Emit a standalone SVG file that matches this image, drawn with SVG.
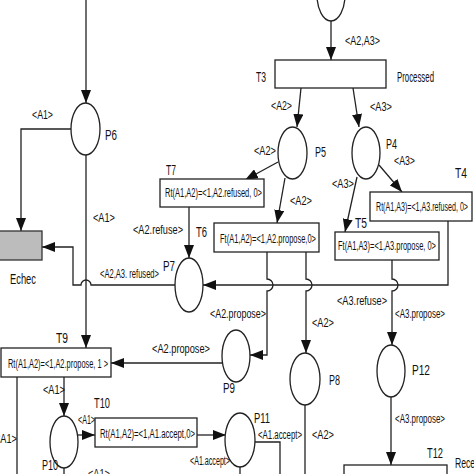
<svg xmlns="http://www.w3.org/2000/svg" width="474" height="474" viewBox="0 0 474 474">
<style>
text { font-family: "Liberation Sans", Arial, sans-serif; fill: #111; }
.n { font-size: 14px; }
.a { font-size: 12px; }
.b { font-size: 12px; }
.place { fill: #fff; stroke: #222; stroke-width: 1.3; }
.tr { fill: #fff; stroke: #222; stroke-width: 1.3; }
.echec { fill: #bcbcbc; stroke: #333; stroke-width: 1.3; }
.c { fill: none; stroke: #222; stroke-width: 1.3; }
.arr { marker-end: url(#ah); }
</style>
<defs>
<marker id="ah" markerUnits="userSpaceOnUse" markerWidth="13" markerHeight="10" refX="13" refY="5" orient="auto">
<path d="M0,0 L13,5 L0,10 z" fill="#111"/>
</marker>
</defs>
<rect width="474" height="474" fill="#fff"/>

<g id="connectors">
<path class="c arr" d="M331,21 L331,60"/>
<path class="c arr" d="M301,88 L297,127"/>
<path class="c arr" d="M353,88 L359,127"/>
<path class="c arr" d="M278,162 L245,180"/>
<path class="c arr" d="M285,178 L277,223"/>
<path class="c arr" d="M379,165 L402,192"/>
<path class="c arr" d="M357,177 L345,232"/>
<path class="c arr" d="M86,0 L86,103"/>
<path class="c arr" d="M71,129 L21,129 L21,231"/>
<path class="c arr" d="M86,155 L86,348"/>
<path class="c arr" d="M189,206 L189,258"/>
<path class="c arr" d="M448,221 L448,285 L203,285"/>
<path class="c arr" d="M175,285 L91,285 A5,5 0 0 0 81,285 L73,285 L73,247 L42,247"/>
<path class="c arr" d="M267,252 L267,279 A6,6 0 0 1 267,291 L267,355 L250,355"/>
<path class="c arr" d="M306,252 L306,279 A6,6 0 0 1 306,291 L306,353"/>
<path class="c arr" d="M392,260 L392,279 A6,6 0 0 1 392,291 L392,345"/>
<path class="c arr" d="M222,363 L111,363"/>
<path class="c" d="M305,405 L305,474"/>
<path class="c arr" d="M391,397 L391,465"/>
<path class="c arr" d="M64,377 L64,416"/>
<path class="c" d="M17,377 L17,474"/>
<path class="c arr" d="M78,435 L95,435"/>
<path class="c arr" d="M197,435 L226,435"/>
<path class="c" d="M255,442 L280,442 L280,474"/>
<path class="c" d="M240,467 L240,474"/>
<path class="c" d="M64,468 L64,474"/>
</g>

<g id="P2"><ellipse class="place" cx="331" cy="-5" rx="14" ry="26"/></g>
<g id="T3"><rect class="tr" x="275" y="60" width="111" height="28"/>
<text class="n" x="256" y="82" font-size="15" textLength="10" lengthAdjust="spacingAndGlyphs">T3</text>
<text class="n" x="397" y="82" font-size="13" textLength="37" lengthAdjust="spacingAndGlyphs">Processed</text>
<text class="a" x="345" y="45" textLength="35" lengthAdjust="spacingAndGlyphs">&lt;A2,A3&gt;</text></g>
<g id="P6"><ellipse class="place" cx="85.5" cy="129" rx="14.5" ry="26"/>
<text class="n" x="105" y="140" textLength="12" lengthAdjust="spacingAndGlyphs">P6</text></g>
<g id="P5"><ellipse class="place" cx="292.5" cy="153" rx="14.5" ry="26"/>
<text class="n" x="315" y="157" textLength="11" lengthAdjust="spacingAndGlyphs">P5</text></g>
<g id="P4"><ellipse class="place" cx="366" cy="153" rx="14" ry="26"/>
<text class="n" x="386" y="149" textLength="11" lengthAdjust="spacingAndGlyphs">P4</text></g>
<g id="T7"><rect class="tr" x="160" y="179" width="104" height="28"/>
<text class="b" x="165" y="197" textLength="97" lengthAdjust="spacingAndGlyphs">Rt(A1,A2)=&lt;1,A2.refused, 0&gt;</text>
<text class="n" x="166" y="175" textLength="10" lengthAdjust="spacingAndGlyphs">T7</text></g>
<g id="T6"><rect class="tr" x="214" y="223" width="105" height="29"/>
<text class="b" x="220" y="243" textLength="96" lengthAdjust="spacingAndGlyphs">Ft(A1,A2)=&lt;1,A2.propose,0&gt;</text>
<text class="n" x="196" y="237" textLength="11" lengthAdjust="spacingAndGlyphs">T6</text></g>
<g id="T4"><rect class="tr" x="370" y="192" width="102" height="29"/>
<text class="b" x="376" y="211" textLength="92" lengthAdjust="spacingAndGlyphs">Rt(A1,A3)=&lt;1,A3.refused, 0&gt;</text>
<text class="n" x="455" y="178" textLength="12" lengthAdjust="spacingAndGlyphs">T4</text></g>
<g id="T5"><rect class="tr" x="335" y="232" width="104" height="28"/>
<text class="b" x="338" y="250" textLength="98" lengthAdjust="spacingAndGlyphs">Ft(A1,A3)=&lt;1,A3.propose, 0&gt;</text>
<text class="n" x="355" y="228" textLength="12" lengthAdjust="spacingAndGlyphs">T5</text></g>
<g id="Echec"><rect class="echec" x="-1" y="231" width="43" height="29"/>
<text class="n" x="10" y="284" font-size="14" textLength="26" lengthAdjust="spacingAndGlyphs">Echec</text></g>
<g id="P7"><ellipse class="place" cx="189" cy="285" rx="14" ry="27"/>
<text class="n" x="163" y="271" textLength="12" lengthAdjust="spacingAndGlyphs">P7</text></g>
<g id="T9"><rect class="tr" x="1" y="348" width="110" height="29"/>
<text class="b" x="8" y="368" textLength="100" lengthAdjust="spacingAndGlyphs">Rt(A1,A2)=&lt;1,A2.propose, 1 &gt;</text>
<text class="n" x="56" y="343" textLength="12" lengthAdjust="spacingAndGlyphs">T9</text></g>
<g id="P9"><ellipse class="place" cx="236" cy="356" rx="14" ry="26"/>
<text class="n" x="223" y="393" textLength="12" lengthAdjust="spacingAndGlyphs">P9</text></g>
<g id="P8"><ellipse class="place" cx="305" cy="379" rx="15" ry="26"/>
<text class="n" x="329" y="385" textLength="11" lengthAdjust="spacingAndGlyphs">P8</text></g>
<g id="P12"><ellipse class="place" cx="391" cy="371" rx="14" ry="26"/>
<text class="n" x="412" y="375" textLength="18" lengthAdjust="spacingAndGlyphs">P12</text></g>
<g id="T12"><rect class="tr" x="344" y="465" width="103" height="20"/>
<text class="n" x="427" y="458" textLength="16" lengthAdjust="spacingAndGlyphs">T12</text>
<text class="n" x="455" y="468" font-size="13" textLength="36" lengthAdjust="spacingAndGlyphs">Received</text></g>
<g id="P10"><ellipse class="place" cx="64" cy="442" rx="14" ry="26"/>
<text class="n" x="42" y="470" textLength="16" lengthAdjust="spacingAndGlyphs">P10</text></g>
<g id="T10"><rect class="tr" x="95" y="418" width="102" height="29"/>
<text class="b" x="100" y="438" textLength="95" lengthAdjust="spacingAndGlyphs">Rt(A1,A2)=&lt;1,A1.accept,0&gt;</text>
<text class="n" x="94" y="408" textLength="16" lengthAdjust="spacingAndGlyphs">T10</text></g>
<g id="P11"><ellipse class="place" cx="240" cy="440" rx="15" ry="27"/>
<text class="n" x="254" y="423" textLength="16" lengthAdjust="spacingAndGlyphs">P11</text></g>

<g id="arc-labels">
<text class="a" x="271" y="110" textLength="21" lengthAdjust="spacingAndGlyphs">&lt;A2&gt;</text>
<text class="a" x="370" y="111" textLength="22" lengthAdjust="spacingAndGlyphs">&lt;A3&gt;</text>
<text class="a" x="254" y="155" textLength="22" lengthAdjust="spacingAndGlyphs">&lt;A2&gt;</text>
<text class="a" x="394" y="165" textLength="21" lengthAdjust="spacingAndGlyphs">&lt;A3&gt;</text>
<text class="a" x="332" y="188" textLength="22" lengthAdjust="spacingAndGlyphs">&lt;A3&gt;</text>
<text class="a" x="290" y="205" textLength="22" lengthAdjust="spacingAndGlyphs">&lt;A2&gt;</text>
<text class="a" x="32" y="119" textLength="21" lengthAdjust="spacingAndGlyphs">&lt;A1&gt;</text>
<text class="a" x="93" y="222" textLength="22" lengthAdjust="spacingAndGlyphs">&lt;A1&gt;</text>
<text class="a" x="133" y="234" textLength="50" lengthAdjust="spacingAndGlyphs">&lt;A2.refuse&gt;</text>
<text class="a" x="100" y="278" textLength="59" lengthAdjust="spacingAndGlyphs">&lt;A2,A3. refused&gt;</text>
<text class="a" x="337" y="305" textLength="50" lengthAdjust="spacingAndGlyphs">&lt;A3.refuse&gt;</text>
<text class="a" x="395" y="318" textLength="50" lengthAdjust="spacingAndGlyphs">&lt;A3.propose&gt;</text>
<text class="a" x="210" y="318" textLength="56" lengthAdjust="spacingAndGlyphs">&lt;A2.propose&gt;</text>
<text class="a" x="312" y="327" textLength="22" lengthAdjust="spacingAndGlyphs">&lt;A2&gt;</text>
<text class="a" x="152" y="353" textLength="58" lengthAdjust="spacingAndGlyphs">&lt;A2.propose&gt;</text>
<text class="a" x="43" y="394" textLength="22" lengthAdjust="spacingAndGlyphs">&lt;A1&gt;</text>
<text class="a" x="-5" y="443" textLength="22" lengthAdjust="spacingAndGlyphs">&lt;A1&gt;</text>
<text class="a" x="78" y="424" font-size="9" textLength="17" lengthAdjust="spacingAndGlyphs">&lt;A1&gt;</text>
<text class="a" x="190" y="465" font-size="11" textLength="40" lengthAdjust="spacingAndGlyphs">&lt;A1.accept&gt;</text>
<text class="a" x="258" y="439" textLength="44" lengthAdjust="spacingAndGlyphs">&lt;A1.accept&gt;</text>
<text class="a" x="312" y="439" textLength="22" lengthAdjust="spacingAndGlyphs">&lt;A2&gt;</text>
<text class="a" x="395" y="423" textLength="50" lengthAdjust="spacingAndGlyphs">&lt;A3.propose&gt;</text>
<text class="a" x="88" y="478" textLength="22" lengthAdjust="spacingAndGlyphs">&lt;A1&gt;</text>
</g>
</svg>
